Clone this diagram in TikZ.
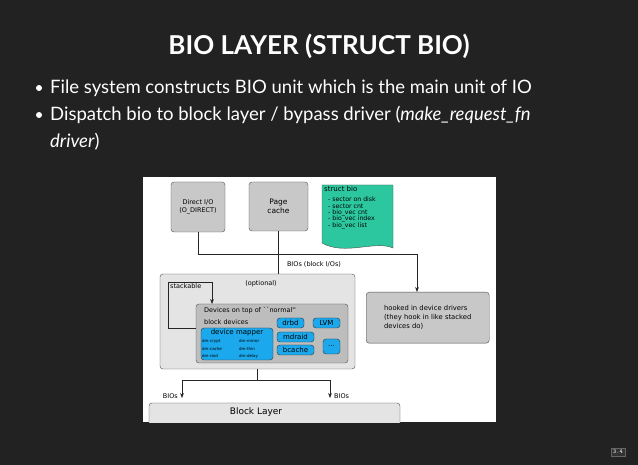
\documentclass[tikz,border=0pt]{standalone}
\usepackage{fontspec}
\setmainfont{Lato}
\newfontfamily\diagfont{DejaVu Sans}
\usetikzlibrary{arrows.meta,positioning}
\definecolor{slidebg}{HTML}{222222}
\definecolor{boxgray}{HTML}{C8C8C8}
\definecolor{optgray}{HTML}{E4E4E4}
\definecolor{devgray}{HTML}{BDBDBD}
\definecolor{drvblue}{HTML}{1BA8EC}
\definecolor{biogreen}{HTML}{2DC79F}
\tikzset{
	box/.style={draw=black!70,rounded corners=3pt,fill=boxgray,font=\diagfont\fontsize{6.5}{8}\selectfont,align=center},
	drv/.style={draw=black!80,rounded corners=3pt,fill=drvblue,font=\diagfont\fontsize{7}{8}\selectfont,inner sep=1pt},
	wire/.style={draw=black!85,semithick},
	ar/.style={wire,-{Stealth[length=5pt]}},
	txt/.style={font=\diagfont\fontsize{6.5}{8}\selectfont,inner sep=1pt},
	small/.style={txt,font=\diagfont\fontsize{4}{5}\selectfont,anchor=west},
	bullet/.style={text=white,font=\fontsize{18.5}{22}\selectfont,anchor=west,inner sep=0pt}
}
\begin{document}
\begin{tikzpicture}[x=1pt,y=-1pt]
	\fill[slidebg] (0,0) rectangle (638,465);
	\useasboundingbox (0,0) rectangle (638,465);
	\node[text=white,font=\bfseries\fontsize{26}{30}\selectfont] (title) at (319,46) {BIO LAYER (STRUCT BIO)};
	\node[bullet] (b1) at (50,88) {File system constructs BIO unit which is the main unit of IO};
	\node[bullet] (b2) at (50,115) {Dispatch bio to block layer / bypass driver (\textit{make\_request\_fn}};
	\node[bullet] (b2x) at (50,142) {\textit{driver})};
	\foreach \y in {88,115} \fill[white] (39,\y) circle (3pt);
	% diagram
	\fill[white] (143,177) rectangle (496,422);
	\begin{scope}
		\clip (143,177) rectangle (496,422);
		\node[box,minimum width=54,minimum height=50] (dio) at (198,207) {Direct I/O\\(O\_DIRECT)};
		\node[box,minimum width=59,minimum height=49,font=\diagfont\fontsize{7.5}{9}\selectfont] (page) at (278.5,206.5) {Page\\cache};
		\fill[biogreen,draw=black!70] (322,185) -- (393,185) -- (393,248)
			.. controls (375,240) and (345,256) .. (322,243) -- cycle;
		\node[txt,anchor=north west,font=\diagfont\fontsize{7}{8}\selectfont] (sbio) at (323,185) {struct bio};
		\node[txt,anchor=north west,align=left,font=\diagfont\fontsize{6.2}{6.3}\selectfont] (fields) at (327,196)
			{- sector on disk\\- sector cnt\\- bio\_vec cnt\\- bio\_vec index\\- bio\_vec list};
		\node[box,fill=optgray,minimum width=195,minimum height=95] (opt) at (257.5,321.5) {};
		\node[txt] (optl) at (261,284) {(optional)};
		\node[box,fill=devgray,minimum width=152,minimum height=59] (dev) at (272,333.5) {};
		\node[txt,anchor=west] (devl) at (203,311) {Devices on top of ``normal''};
		\node[txt,anchor=west] (devl2) at (203,322) {block devices};
		\node[drv,minimum width=72,minimum height=32] (dm) at (237,344) {};
		\node[txt,font=\diagfont\fontsize{7}{8}\selectfont] (dml) at (237,333) {device mapper};
		\node[small] (dm1) at (201,341) {dm-crypt};
		\node[small] (dm2) at (238,341) {dm-mirror};
		\node[small] (dm3) at (201,349) {dm-cache};
		\node[small] (dm4) at (238,349) {dm-thin};
		\node[small] (dm5) at (201,356) {dm-raid};
		\node[small] (dm6) at (238,356) {dm-delay};
		\node[drv,minimum width=27,minimum height=10] (drbd) at (290.5,323) {drbd};
		\node[drv,minimum width=27,minimum height=10] (lvm) at (326.5,323) {LVM};
		\node[drv,minimum width=37,minimum height=10] (mdraid) at (295.5,337) {mdraid};
		\node[drv,minimum width=37,minimum height=10] (bcache) at (295.5,350) {bcache};
		\node[drv,minimum width=17,minimum height=15] (dots) at (331.5,346.5) {...};
		\node[box,anchor=north west,minimum width=123,minimum height=51,align=left,font=\diagfont\fontsize{6.8}{9}\selectfont] (hook) at (366,292)
			{hooked in device drivers\\(they hook in like stacked\\devices do)};
		\node[box,fill=optgray,minimum width=251,minimum height=40] (blk) at (274.5,423) {};
		\node[font=\diagfont\fontsize{9}{10}\selectfont] (blkl) at (256,412) {Block Layer};
		% connectors
		\coordinate (j1) at (dio.south |- 0,254);
		\coordinate (j2) at (hook.north -| 417,0);
		\draw[wire] (dio.south) -- (j1) -- (j1 -| j2);
		\draw[ar] (j1 -| j2) -- (417,292);
		\draw[wire] (page.south) -- (page.south |- opt.north);
		\node[txt] (biol) at (314,264) {BIOs (block I/Os)};
		\node[txt,anchor=north west] (stk) at (169,282) {stackable};
		\draw[wire] (dev.west |- 0,328) -- (168,328) -- (168,282) -- (212,282);
		\draw[ar] (212,282) -- (212,304);
		\coordinate (s) at (257,380);
		\draw[wire] (opt.south -| s) -- (s);
		\draw[ar] (s) -- (182,380) -- (182,398);
		\draw[ar] (s) -- (330,380) -- (330,398);
		\node[txt,anchor=east] (bl) at (179,396) {BIOs};
		\node[txt,anchor=west] (br) at (333,396) {BIOs};
	\end{scope}
	\node[draw=black!60,fill=black!80,text=white,font=\ttfamily\fontsize{6}{6}\selectfont,inner sep=2pt] (pg) at (618,452) {3.4};
\end{tikzpicture}
\end{document}
